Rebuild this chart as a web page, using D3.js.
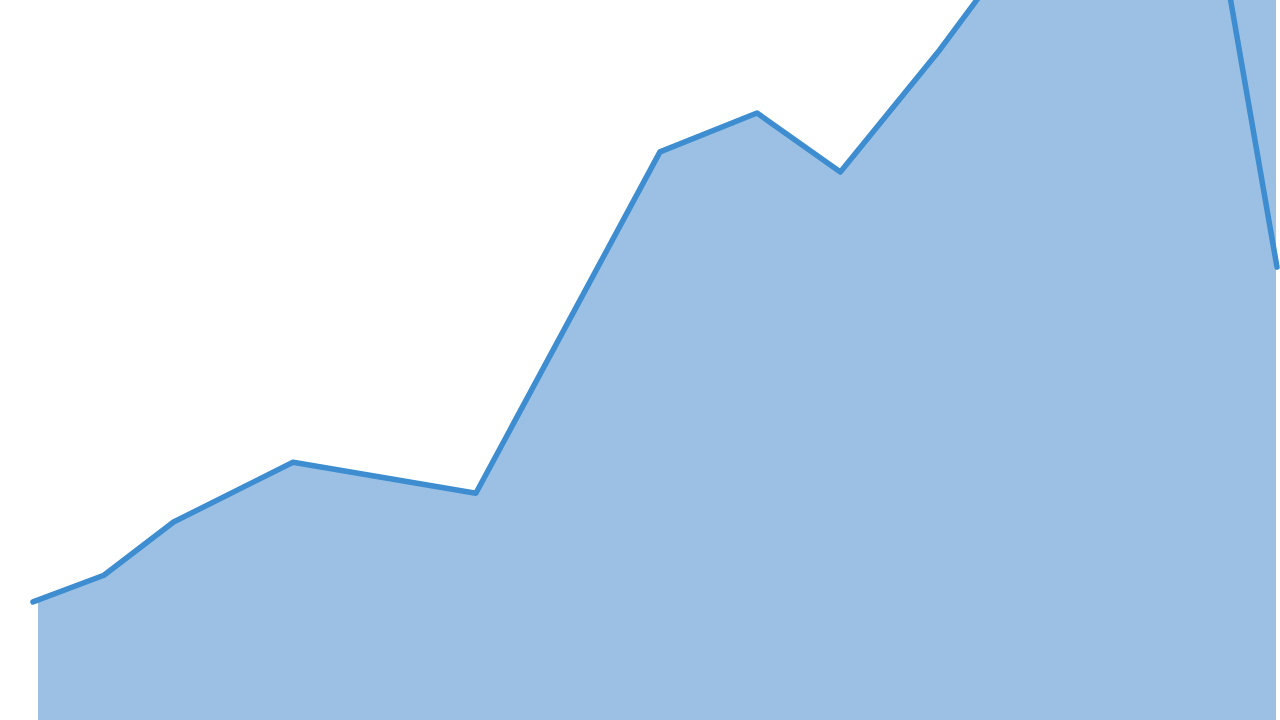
<!DOCTYPE html>
<html>
<head>
<meta charset="utf-8">
<script src="https://cdn.jsdelivr.net/npm/d3@7"></script>
<style>
  html, body { margin: 0; padding: 0; background: #fff; overflow: hidden; }
  svg { display: block; }
</style>
</head>
<body>
<svg id="chart"></svg>
<script>
// data (x in arbitrary time units, y in value units)
const xs       = [0, 5.7, 11.3, 20.9, 35.6, 50.4, 58.2, 64.9, 72.9, 92.4, 100];
const values   = [16.4, 20.1, 27.5, 35.8, 31.5, 78.9, 84.3, 76.1, 93.1, 138.5, 62.9];
// the fill does not come back down at the last point
const fillTops = [16.4, 20.1, 27.5, 35.8, 31.5, 78.9, 84.3, 76.1, 93.1, 138.5, 140];

document.addEventListener('DOMContentLoaded', function () {
    const width = 1280;
    const height = 720;
    const svg = d3.select("#chart")
        .attr("width", width)
        .attr("height", height);

    const x = d3.scaleLinear().domain([0, 100]).range([33, 1277]);
    const y = d3.scaleLinear().domain([0, 100]).range([height, 0]);

    const points = xs.map((t, i) => ({ t: t, v: values[i], f: fillTops[i] }));

    // fill sits a touch inside the line at both ends
    svg.append("clipPath")
        .attr("id", "fill-clip")
        .append("rect")
        .attr("x", x(0) + 5)
        .attr("y", 0)
        .attr("width", x(100) - x(0) - 6)
        .attr("height", height);

    const area = d3.area()
        .x(d => x(d.t))
        .y0(y(-5))
        .y1(d => y(d.f));

    const line = d3.line()
        .x(d => x(d.t))
        .y(d => y(d.v));

    svg.append("path")
        .datum(points)
        .attr("d", area)
        .attr("clip-path", "url(#fill-clip)")
        .attr("fill", "#9bc0e4");

    svg.append("path")
        .datum(points)
        .attr("d", line)
        .attr("fill", "none")
        .attr("stroke", "#3d8dd0")
        .attr("stroke-width", 5.5)
        .attr("stroke-linejoin", "round")
        .attr("stroke-linecap", "round");
});
</script>
</body>
</html>
